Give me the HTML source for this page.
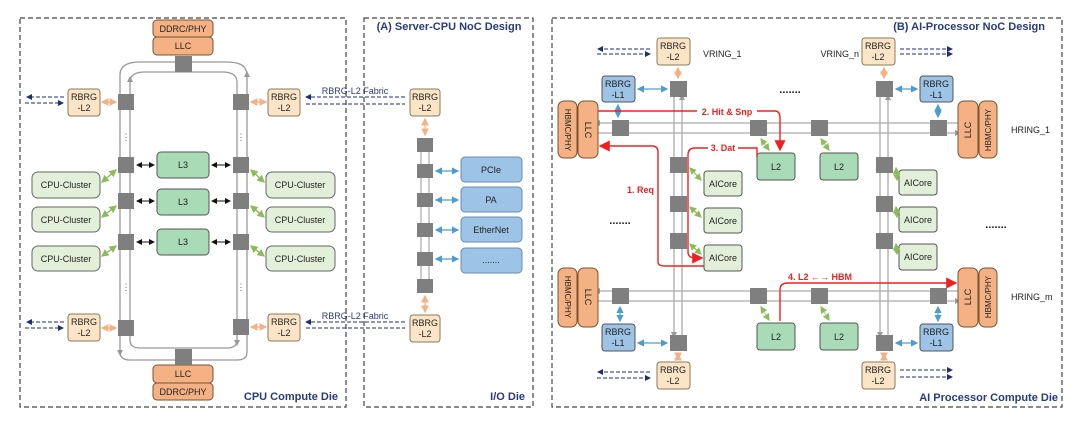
<!DOCTYPE html>
<html><head><meta charset="utf-8"><style>
body{margin:0;background:#fff}
svg{display:block;font-family:"Liberation Sans",sans-serif}
.t{font-size:9px;fill:#222;text-anchor:middle}
</style></head><body>
<svg width="1080" height="422" viewBox="0 0 1080 422">
<defs>
<marker id="ab" markerWidth="6" markerHeight="6" refX="5" refY="3" orient="auto-start-reverse"><path d="M0,0L6,3L0,6z" fill="#1f2f6f"/></marker>
<marker id="ak" markerWidth="6" markerHeight="6" refX="5" refY="3" orient="auto-start-reverse"><path d="M0,0L6,3L0,6z" fill="#111"/></marker>
<marker id="ao" markerWidth="6" markerHeight="6" refX="5" refY="3" orient="auto-start-reverse"><path d="M0,0L6,3L0,6z" fill="#f4b183"/></marker>
<marker id="abl" markerWidth="6" markerHeight="6" refX="5" refY="3" orient="auto-start-reverse"><path d="M0,0L6,3L0,6z" fill="#4a9fd0"/></marker>
<marker id="ag" markerWidth="6" markerHeight="6" refX="5" refY="3" orient="auto-start-reverse"><path d="M0,0L6,3L0,6z" fill="#8dbb5a"/></marker>
<marker id="agr" markerWidth="6" markerHeight="6" refX="5" refY="3" orient="auto-start-reverse"><path d="M0,0L6,3L0,6z" fill="#999"/></marker>
<marker id="ar" markerWidth="8" markerHeight="8" refX="7" refY="4" orient="auto-start-reverse"><path d="M0,0L8,4L0,8z" fill="#f02020"/></marker>
</defs>

<g fill="none" stroke="#444" stroke-dasharray="5,3" stroke-width="1.2">
<rect x="20" y="18" width="326" height="389"/>
<rect x="364" y="18" width="169" height="389"/>
<rect x="552" y="18" width="510" height="389"/>
</g>
<text x="449" y="30" font-size="11" font-weight="bold" fill="#2a3a7a" text-anchor="middle">(A) Server-CPU NoC Design</text>
<text x="1045" y="30" font-size="11" font-weight="bold" fill="#2a3a7a" text-anchor="end">(B) AI-Processor NoC Design</text>
<text x="338" y="400" font-size="11" font-weight="bold" fill="#2a3a7a" text-anchor="end">CPU Compute Die</text>
<text x="525" y="400" font-size="11" font-weight="bold" fill="#2a3a7a" text-anchor="end">I/O Die</text>
<text x="1058" y="401" font-size="11" font-weight="bold" fill="#2a3a7a" text-anchor="end">AI Processor Compute Die</text>

<!-- LEFT -->
<g fill="none" stroke="#999" stroke-width="1.3">
<path d="M120,352 V75 Q120,62 140,62 H227 Q247,62 247,75 V352 Q247,360 237,360 H130 Q120,360 120,352"/>
<path d="M130,340 V82 Q130,72 145,72 H222 Q237,72 237,82 V340 Q237,348 227,348 H140 Q130,348 130,340"/>
</g>
<path d="M130,82 V77" stroke="#999" marker-end="url(#agr)"/>
<path d="M247,78 V72" stroke="#999" marker-end="url(#agr)"/>
<path d="M120,350 V355" stroke="#999" marker-end="url(#agr)"/>
<path d="M237,340 V345" stroke="#999" marker-end="url(#agr)"/>
<g fill="#f4b183" stroke="#7a5230" stroke-width="1">
<rect x="153" y="20" width="60" height="17" rx="4"/><rect x="153" y="37" width="60" height="18" rx="4"/>
<rect x="153" y="383" width="60" height="17" rx="4"/><rect x="153" y="365" width="60" height="18" rx="4"/>
</g>
<text class="t" x="183" y="32">DDRC/PHY</text><text class="t" x="183" y="49">LLC</text>
<text class="t" x="183" y="395">DDRC/PHY</text><text class="t" x="183" y="377">LLC</text>
<g fill="#7f7f7f">
<rect x="175" y="56" width="17" height="16"/><rect x="175" y="349" width="17" height="16"/>
<rect x="118" y="94" width="16" height="16"/><rect x="233" y="94" width="16" height="16"/>
<rect x="118" y="157" width="16" height="16"/><rect x="233" y="157" width="16" height="16"/>
<rect x="118" y="193" width="16" height="16"/><rect x="233" y="193" width="16" height="16"/>
<rect x="118" y="234" width="16" height="16"/><rect x="233" y="234" width="16" height="16"/>
<rect x="118" y="320" width="16" height="16"/><rect x="233" y="319" width="16" height="16"/>
</g>
<text x="126" y="140" font-size="9" fill="#c33" text-anchor="middle">⋮</text>
<text x="241" y="140" font-size="9" fill="#666" text-anchor="middle">⋮</text>
<text x="126" y="290" font-size="9" fill="#c33" text-anchor="middle">⋮</text>
<text x="241" y="290" font-size="9" fill="#666" text-anchor="middle">⋮</text>
<g fill="#fbe5c6" stroke="#8a7a5a">
<rect x="68" y="89" width="32" height="27" rx="3"/><rect x="268" y="89" width="32" height="27" rx="3"/>
<rect x="68" y="314" width="32" height="27" rx="3"/><rect x="268" y="314" width="32" height="27" rx="3"/>
</g>
<text class="t" x="84" y="100">RBRG</text><text class="t" x="84" y="111">-L2</text>
<text class="t" x="284" y="100">RBRG</text><text class="t" x="284" y="111">-L2</text>
<text class="t" x="84" y="325">RBRG</text><text class="t" x="84" y="336">-L2</text>
<text class="t" x="284" y="325">RBRG</text><text class="t" x="284" y="336">-L2</text>
<g stroke="#f4b183" stroke-width="1.3">
<path d="M102,102 H116" marker-start="url(#ao)" marker-end="url(#ao)"/>
<path d="M251,102 H266" marker-start="url(#ao)" marker-end="url(#ao)"/>
<path d="M102,328 H116" marker-start="url(#ao)" marker-end="url(#ao)"/>
<path d="M251,327 H266" marker-start="url(#ao)" marker-end="url(#ao)"/>
</g>
<g stroke="#1f2f6f" stroke-dasharray="4,2" fill="none">
<path d="M64,97 H27" marker-end="url(#ab)"/><path d="M25,103 H63" marker-end="url(#ab)"/>
<path d="M64,322 H27" marker-end="url(#ab)"/><path d="M25,328 H63" marker-end="url(#ab)"/>
<path d="M405,97 H306" marker-end="url(#ab)"/><path d="M306,104 H405"/>
<path d="M405,322 H306" marker-end="url(#ab)"/><path d="M306,328 H405"/>
</g>
<text x="355" y="94" font-size="9" fill="#2a3a7a" text-anchor="middle">RBRG-L2 Fabric</text>
<text x="355" y="319" font-size="9" fill="#2a3a7a" text-anchor="middle">RBRG-L2 Fabric</text>
<g fill="#a9dbb7" stroke="#555"><rect x="157" y="152" width="52" height="26" rx="4"/><rect x="157" y="189" width="52" height="26" rx="4"/><rect x="157" y="229" width="52" height="26" rx="4"/></g>
<text class="t" x="183" y="168">L3</text><text class="t" x="183" y="205">L3</text><text class="t" x="183" y="245">L3</text>
<g stroke="#111"><path d="M137,165 H154" marker-start="url(#ak)" marker-end="url(#ak)"/><path d="M212,165 H230" marker-start="url(#ak)" marker-end="url(#ak)"/>
<path d="M137,201 H154" marker-start="url(#ak)" marker-end="url(#ak)"/><path d="M212,201 H230" marker-start="url(#ak)" marker-end="url(#ak)"/>
<path d="M137,242 H154" marker-start="url(#ak)" marker-end="url(#ak)"/><path d="M212,242 H230" marker-start="url(#ak)" marker-end="url(#ak)"/></g>
<g fill="#e2f0d9" stroke="#666"><rect x="32" y="172" width="68" height="26" rx="6"/><rect x="32" y="207" width="68" height="25" rx="6"/><rect x="32" y="246" width="68" height="25" rx="6"/>
<rect x="266" y="172" width="69" height="26" rx="6"/><rect x="266" y="207" width="69" height="25" rx="6"/><rect x="266" y="246" width="69" height="25" rx="6"/></g>
<text class="t" x="66" y="188">CPU-Cluster</text><text class="t" x="66" y="223">CPU-Cluster</text><text class="t" x="66" y="262">CPU-Cluster</text>
<text class="t" x="300" y="188">CPU-Cluster</text><text class="t" x="300" y="223">CPU-Cluster</text><text class="t" x="300" y="262">CPU-Cluster</text>
<g stroke="#8dbb5a" stroke-width="1.3">
<path d="M102,182 L116,170" marker-start="url(#ag)" marker-end="url(#ag)"/><path d="M102,217 L116,206" marker-start="url(#ag)" marker-end="url(#ag)"/><path d="M102,256 L116,246" marker-start="url(#ag)" marker-end="url(#ag)"/>
<path d="M251,170 L264,182" marker-start="url(#ag)" marker-end="url(#ag)"/><path d="M251,206 L264,217" marker-start="url(#ag)" marker-end="url(#ag)"/><path d="M251,246 L264,256" marker-start="url(#ag)" marker-end="url(#ag)"/>
</g>

<!-- MIDDLE -->
<g stroke="#aaa" fill="none" stroke-width="1.2"><path d="M421,140 V292"/><path d="M429,140 V292"/></g>
<g fill="#7f7f7f"><rect x="417" y="138" width="16" height="14"/><rect x="417" y="164" width="16" height="14"/><rect x="417" y="193" width="16" height="14"/><rect x="417" y="223" width="16" height="14"/><rect x="417" y="252" width="16" height="14"/><rect x="417" y="279" width="16" height="14"/></g>
<g fill="#fbe5c6" stroke="#8a7a5a"><rect x="410" y="89" width="30" height="27" rx="3"/><rect x="410" y="315" width="30" height="27" rx="3"/></g>
<text class="t" x="425" y="100">RBRG</text><text class="t" x="425" y="111">-L2</text><text class="t" x="425" y="326">RBRG</text><text class="t" x="425" y="337">-L2</text>
<g stroke="#f4b183" stroke-width="1.3"><path d="M425,119 V135" marker-start="url(#ao)" marker-end="url(#ao)"/><path d="M425,296 V312" marker-start="url(#ao)" marker-end="url(#ao)"/></g>
<g fill="#9dc3e6" stroke="#6a8cb0"><rect x="461" y="157" width="61" height="25" rx="4"/><rect x="461" y="187" width="61" height="25" rx="4"/><rect x="461" y="217" width="61" height="25" rx="4"/><rect x="461" y="248" width="61" height="25" rx="4"/></g>
<text class="t" x="491" y="173">PCIe</text><text class="t" x="491" y="203">PA</text><text class="t" x="491" y="233">EtherNet</text><text class="t" x="491" y="263">.......</text>
<g stroke="#4a9fd0" stroke-width="1.2"><path d="M436,171 H458" marker-start="url(#abl)" marker-end="url(#abl)"/><path d="M436,200 H458" marker-start="url(#abl)" marker-end="url(#abl)"/><path d="M436,230 H458" marker-start="url(#abl)" marker-end="url(#abl)"/><path d="M436,259 H458" marker-start="url(#abl)" marker-end="url(#abl)"/></g>

<!-- RIGHT -->
<g stroke="#aaa" fill="none" stroke-width="1.3">
<path d="M674,95 V350"/><path d="M682,95 V350"/><path d="M880,95 V350"/><path d="M888,95 V350"/>
<path d="M598,123 H958"/><path d="M598,133 H958"/>
<path d="M598,291 H958"/><path d="M598,301 H958"/>
</g>
<g stroke="#999"><path d="M600,123 H595" marker-end="url(#agr)"/><path d="M955,133 H960" marker-end="url(#agr)"/><path d="M600,291 H595" marker-end="url(#agr)"/><path d="M955,301 H960" marker-end="url(#agr)"/>
<path d="M682,100 V95" marker-end="url(#agr)"/><path d="M888,100 V95" marker-end="url(#agr)"/><path d="M674,332 V337" marker-end="url(#agr)"/><path d="M880,332 V337" marker-end="url(#agr)"/></g>
<g fill="#7f7f7f">
<rect x="670" y="81" width="17" height="16"/><rect x="876" y="81" width="17" height="16"/>
<rect x="612" y="120" width="17" height="16"/><rect x="750" y="120" width="17" height="16"/><rect x="811" y="120" width="17" height="16"/><rect x="930" y="120" width="17" height="16"/>
<rect x="670" y="157" width="17" height="16"/><rect x="670" y="196" width="17" height="16"/><rect x="670" y="233" width="17" height="16"/>
<rect x="876" y="157" width="17" height="16"/><rect x="876" y="196" width="17" height="16"/><rect x="876" y="233" width="17" height="16"/>
<rect x="612" y="288" width="17" height="16"/><rect x="750" y="288" width="17" height="16"/><rect x="811" y="288" width="17" height="16"/><rect x="930" y="288" width="17" height="16"/>
<rect x="670" y="335" width="17" height="16"/><rect x="876" y="335" width="17" height="16"/>
</g>
<g fill="#f4b183" stroke="#7a5230">
<rect x="558" y="101" width="19" height="57" rx="6"/><rect x="578" y="101" width="20" height="57" rx="6"/>
<rect x="558" y="268" width="19" height="59" rx="6"/><rect x="578" y="268" width="20" height="59" rx="6"/>
<rect x="958" y="101" width="20" height="57" rx="6"/><rect x="979" y="101" width="18" height="57" rx="6"/>
<rect x="958" y="268" width="20" height="59" rx="6"/><rect x="979" y="268" width="18" height="59" rx="6"/>
</g>
<g font-size="8" fill="#222" text-anchor="middle">
<text transform="translate(565,130) rotate(90)">HBMC/PHY</text><text font-size="9" transform="translate(585,130) rotate(90)">LLC</text>
<text transform="translate(565,297) rotate(90)">HBMC/PHY</text><text font-size="9" transform="translate(585,297) rotate(90)">LLC</text>
<text font-size="9" transform="translate(971,130) rotate(-90)">LLC</text><text transform="translate(991,130) rotate(-90)">HBMC/PHY</text>
<text font-size="9" transform="translate(971,297) rotate(-90)">LLC</text><text transform="translate(991,297) rotate(-90)">HBMC/PHY</text>
</g>
<text x="1011" y="133" font-size="9" fill="#222">HRING_1</text>
<text x="1011" y="300" font-size="9" fill="#222">HRING_m</text>
<text x="703" y="57" font-size="9" fill="#222">VRING_1</text>
<text x="859" y="57" font-size="9" fill="#222" text-anchor="end">VRING_n</text>
<g fill="#fbe5c6" stroke="#8a7a5a">
<rect x="657" y="38" width="33" height="27" rx="3"/><rect x="862" y="38" width="33" height="27" rx="3"/>
<rect x="657" y="362" width="33" height="27" rx="3"/><rect x="862" y="362" width="33" height="27" rx="3"/>
</g>
<text class="t" x="673" y="49">RBRG</text><text class="t" x="673" y="60">-L2</text><text class="t" x="878" y="49">RBRG</text><text class="t" x="878" y="60">-L2</text>
<text class="t" x="673" y="373">RBRG</text><text class="t" x="673" y="384">-L2</text><text class="t" x="878" y="373">RBRG</text><text class="t" x="878" y="384">-L2</text>
<g fill="#9dc3e6" stroke="#555">
<rect x="602" y="76" width="33" height="26" rx="3"/><rect x="920" y="76" width="33" height="26" rx="3"/>
<rect x="602" y="324" width="33" height="27" rx="3"/><rect x="920" y="324" width="33" height="27" rx="3"/>
</g>
<text class="t" x="618" y="87">RBRG</text><text class="t" x="618" y="98">-L1</text><text class="t" x="936" y="87">RBRG</text><text class="t" x="936" y="98">-L1</text>
<text class="t" x="618" y="335">RBRG</text><text class="t" x="618" y="346">-L1</text><text class="t" x="936" y="335">RBRG</text><text class="t" x="936" y="346">-L1</text>
<g stroke="#f4b183" stroke-width="1.3"><path d="M678,68 V78" marker-start="url(#ao)" marker-end="url(#ao)"/><path d="M884,68 V78" marker-start="url(#ao)" marker-end="url(#ao)"/>
<path d="M678,354 V359" marker-start="url(#ao)" marker-end="url(#ao)"/><path d="M884,354 V359" marker-start="url(#ao)" marker-end="url(#ao)"/></g>
<g stroke="#4a9fd0" stroke-width="1.2">
<path d="M638,89 H667" marker-start="url(#abl)" marker-end="url(#abl)"/><path d="M896,89 H917" marker-start="url(#abl)" marker-end="url(#abl)"/>
<path d="M618,105 V117" marker-start="url(#abl)" marker-end="url(#abl)"/><path d="M938,105 V117" marker-start="url(#abl)" marker-end="url(#abl)"/>
<path d="M638,343 H667" marker-start="url(#abl)" marker-end="url(#abl)"/><path d="M896,343 H917" marker-start="url(#abl)" marker-end="url(#abl)"/>
<path d="M620,307 V321" marker-start="url(#abl)" marker-end="url(#abl)"/><path d="M938,307 V321" marker-start="url(#abl)" marker-end="url(#abl)"/>
</g>
<g fill="#a9dbb7" stroke="#555">
<rect x="757" y="153" width="38" height="27" rx="3"/><rect x="820" y="153" width="38" height="27" rx="3"/>
<rect x="757" y="323" width="38" height="27" rx="3"/><rect x="820" y="323" width="38" height="27" rx="3"/>
</g>
<text class="t" x="776" y="170">L2</text><text class="t" x="839" y="170">L2</text><text class="t" x="776" y="340">L2</text><text class="t" x="839" y="340">L2</text>
<g fill="#e2f0d9" stroke="#555">
<rect x="704" y="171" width="38" height="25" rx="3"/><rect x="704" y="208" width="38" height="25" rx="3"/><rect x="704" y="245" width="38" height="26" rx="3"/>
<rect x="899" y="170" width="38" height="25" rx="3"/><rect x="899" y="207" width="38" height="25" rx="3"/><rect x="899" y="244" width="38" height="26" rx="3"/>
</g>
<text class="t" x="723" y="187">AICore</text><text class="t" x="723" y="224">AICore</text><text class="t" x="723" y="261">AICore</text>
<text class="t" x="918" y="186">AICore</text><text class="t" x="918" y="223">AICore</text><text class="t" x="918" y="260">AICore</text>
<g stroke="#8dbb5a" stroke-width="1.2">
<path d="M690,168 L701,180" marker-start="url(#ag)" marker-end="url(#ag)"/><path d="M690,207 L701,217" marker-start="url(#ag)" marker-end="url(#ag)"/><path d="M690,244 L701,254" marker-start="url(#ag)" marker-end="url(#ag)"/>
<path d="M896,168 L897,180" marker-start="url(#ag)" marker-end="url(#ag)"/><path d="M896,207 L897,217" marker-start="url(#ag)" marker-end="url(#ag)"/><path d="M896,244 L897,254" marker-start="url(#ag)" marker-end="url(#ag)"/>
</g>
<g stroke="#a8d8a8" stroke-width="1.2">
<path d="M761,139 L769,150" marker-start="url(#ag)" marker-end="url(#ag)"/><path d="M821,139 L829,150" marker-start="url(#ag)" marker-end="url(#ag)"/>
<path d="M761,307 L769,320" marker-start="url(#ag)" marker-end="url(#ag)"/><path d="M821,307 L829,320" marker-start="url(#ag)" marker-end="url(#ag)"/>
</g>
<text x="790" y="93" font-size="11" font-weight="bold" fill="#222" text-anchor="middle">.......</text>
<text x="620" y="224" font-size="11" font-weight="bold" fill="#222" text-anchor="middle">.......</text>
<text x="996" y="228" font-size="11" font-weight="bold" fill="#222" text-anchor="middle">.......</text>
<g stroke="#f02020" stroke-width="1.4" fill="none">
<path d="M598,111 H775 Q780,111 780,118 V150" marker-end="url(#ar)"/>
<path d="M658,262 V152 Q658,146 652,146 H600" marker-end="url(#ar)"/>
<path d="M757,157 V148 H695 Q688,148 688,155 V252 Q688,258 695,258 H702" marker-end="url(#ar)"/>
<path d="M658,262 Q658,266 665,266 H704"/>
<path d="M780,321 V290 Q780,283 788,283 H956" marker-end="url(#ar)"/>
</g>
<rect x="697" y="106" width="60" height="10" fill="#fff"/>
<text x="727" y="115" font-size="9" font-weight="bold" fill="#f02020" text-anchor="middle">2. Hit &amp; Snp</text>
<rect x="708" y="143" width="30" height="10" fill="#fff"/>
<text x="723" y="151" font-size="9" font-weight="bold" fill="#f02020" text-anchor="middle">3. Dat</text>
<text x="654" y="193" font-size="9" font-weight="bold" fill="#f02020" text-anchor="end">1. Req</text>
<text x="820" y="280" font-size="9" font-weight="bold" fill="#f02020" text-anchor="middle">4. L2 ←→  HBM</text>
<g stroke="#1f2f6f" stroke-dasharray="4,2" fill="none">
<path d="M650,49 H598" marker-end="url(#ab)"/><path d="M597,54 H650" marker-end="url(#ab)"/>
<path d="M900,49 H952" marker-end="url(#ab)"/><path d="M900,54 H952" marker-end="url(#ab)"/>
<path d="M650,372 H598" marker-end="url(#ab)"/><path d="M597,378 H650" marker-end="url(#ab)"/>
<path d="M900,370 H952" marker-end="url(#ab)"/><path d="M900,377 H952" marker-end="url(#ab)"/>
</g>
</svg>
</body></html>
